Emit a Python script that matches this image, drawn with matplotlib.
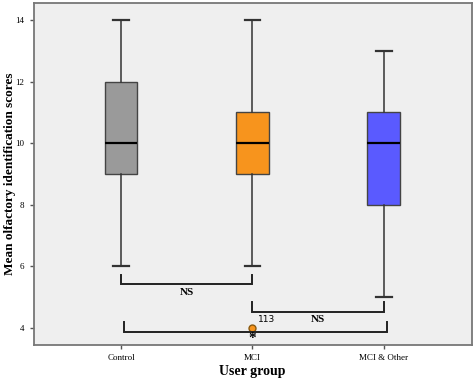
import matplotlib.pyplot as plt

groups = ["Control", "MCI", "MCI & Other"]
q1 = [9, 9, 8]
med = [10, 10, 10]
q3 = [12, 11, 11]
whislo = [6, 6, 5]
whishi = [14, 14, 13]
outliers = [[], [4], []]
colors = ["#9a9a9a", "#f7941d", "#5a5aff"]

# comparison brackets: (left group, right group, level, label)
brackets = [(1, 2, 5.42, "NS"), (2, 3, 4.53, "NS"), (1.02, 3.02, 3.88, "*")]

plt.rcParams["font.family"] = ["Liberation Serif", "DejaVu Serif"]
fig = plt.figure(figsize=(4.74, 3.82), dpi=100)
ax = fig.add_axes([0.0707, 0.097, 0.925, 0.895])
ax.set_facecolor("#efefef")

stats = []
for i, g in enumerate(groups):
    stats.append(dict(label=g, q1=q1[i], med=med[i], q3=q3[i],
                      whislo=whislo[i], whishi=whishi[i], fliers=outliers[i]))

bp = ax.bxp(stats, positions=[1, 2, 3], widths=0.25, patch_artist=True,
            showfliers=True,
            medianprops=dict(color="black", lw=1.6),
            whiskerprops=dict(color="#333333", lw=1.1),
            capprops=dict(color="#333333", lw=1.6),
            boxprops=dict(edgecolor="#444444", lw=1.0),
            flierprops=dict(marker="o", markerfacecolor="#f7941d",
                            markeredgecolor="#8a5a10", markersize=5))
for patch, c in zip(bp["boxes"], colors):
    patch.set_facecolor(c)
for cap in bp["caps"]:
    x = cap.get_xdata()
    m = (x[0] + x[1]) / 2
    cap.set_xdata([m - 0.06, m + 0.06])

ax.annotate("113", xy=(2, 4), xytext=(2.04, 4.27), fontsize=6.5,
            family="DejaVu Sans", ha="left", va="center")

for a, b, y, lab in brackets:
    ax.plot([a, a, b, b], [y + 0.3, y, y, y + 0.3], color="#222222", lw=1.4,
            solid_joinstyle="miter")
    if lab == "*":
        ax.text(2, y - 0.22, lab, ha="center", va="center",
                fontsize=11, fontweight="bold")
    else:
        ax.text((a + b) / 2, y - 0.27, lab, ha="center", va="center",
                fontsize=8, fontweight="bold")

ax.set_xlim(0.335, 3.67)
ax.set_ylim(3.45, 14.55)
ax.set_yticks([4, 6, 8, 10, 12, 14])
ax.set_xticks([1, 2, 3])
ax.set_xticklabels(groups)
ax.tick_params(labelsize=6.5, length=3, color="#555555", width=1)
for s in ax.spines.values():
    s.set_color("#777777")
    s.set_linewidth(1.3)

ax.set_xlabel("User group", fontsize=10, fontweight="bold")
ax.xaxis.set_label_coords(0.5, -0.058)
ax.set_ylabel("Mean olfactory identification scores", fontsize=9.5,
              fontweight="bold")
ax.yaxis.set_label_coords(-0.04, 0.5)

fig.savefig("out.png", dpi=100)
